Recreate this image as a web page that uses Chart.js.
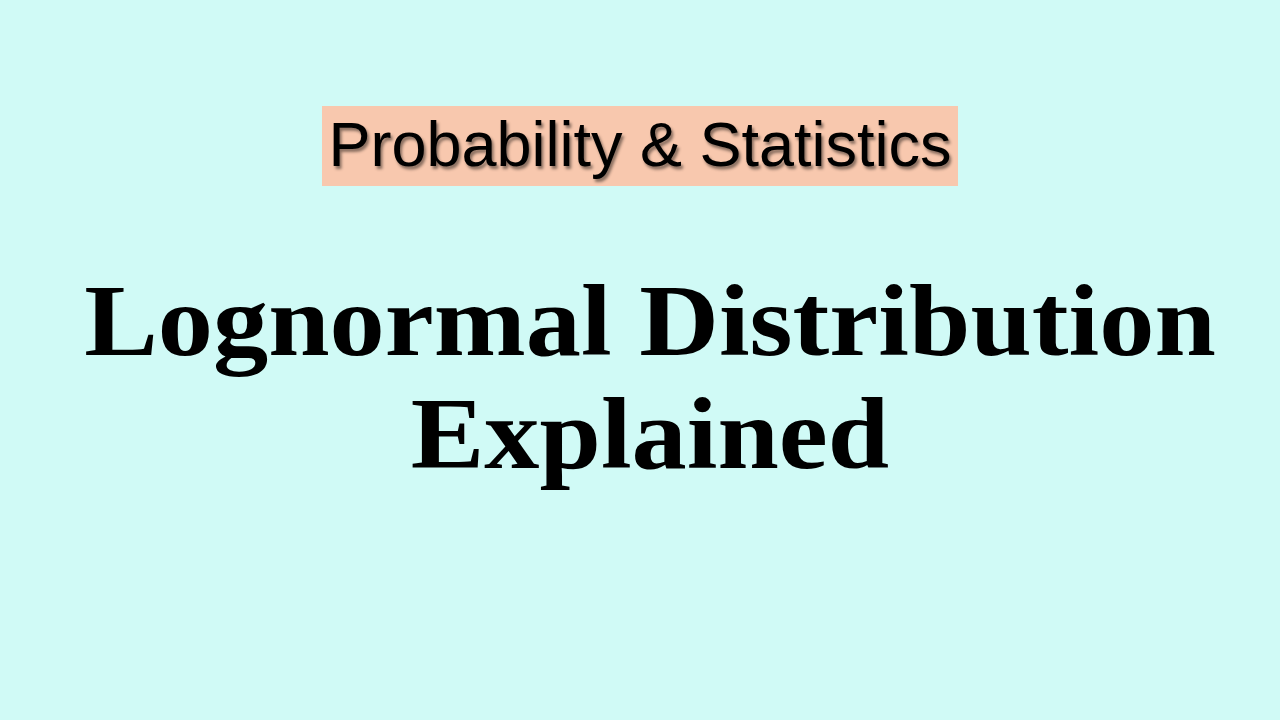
<!DOCTYPE html>
<html>
<head>
<meta charset="utf-8">
<script src="https://cdn.jsdelivr.net/npm/chart.js@4"></script>
<style>
  html, body { margin: 0; padding: 0; }
  body {
    width: 1280px; height: 720px; overflow: hidden;
    background: #d0faf6; position: relative;
  }
  #chart { position: absolute; left: 0; top: 0; }
  .tag {
    position: absolute; left: 322px; top: 106px; width: 636px; height: 80px;
    background: #f8c8ae;
    font-family: "Liberation Sans", Arial, sans-serif;
    font-size: 63px; line-height: 77px; text-align: center;
    color: #000; text-shadow: 2px 3px 3px rgba(0,0,0,0.45);
    white-space: nowrap;
  }
  .title {
    position: absolute; left: 10px; width: 1280px; text-align: center;
    font-family: "Liberation Serif", "Times New Roman", serif; font-weight: bold;
    font-size: 101px; line-height: 118px; color: #000;
    transform: scaleX(1.093); transform-origin: 640px 0;
    white-space: nowrap;
  }
</style>
</head>
<body>
<canvas id="chart" width="1280" height="720"></canvas>
<div class="tag" id="tag"></div>
<div class="title" id="t1" style="top:262px"></div>
<div class="title" id="t2" style="top:375px"></div>
<script>
// Slide text
const subtitle = 'Probability & Statistics';
const titleLines = ['Lognormal Distribution', 'Explained'];

// No data on this slide
const categories = [];
const seriesValues = [];

document.getElementById('tag').textContent = subtitle;
document.getElementById('t1').textContent = titleLines[0];
document.getElementById('t2').textContent = titleLines[1];

// Empty chart layer (slide has no plotted marks)
const ctx = document.getElementById('chart').getContext('2d');
new Chart(ctx, {
    type: 'line',
    data: {
        labels: categories,
        datasets: [{ data: seriesValues }]
    },
    options: {
        responsive: false,
        animation: false,
        plugins: { legend: { display: false }, tooltip: { enabled: false } },
        scales: { x: { display: false }, y: { display: false } }
    }
});
</script>
</body>
</html>
